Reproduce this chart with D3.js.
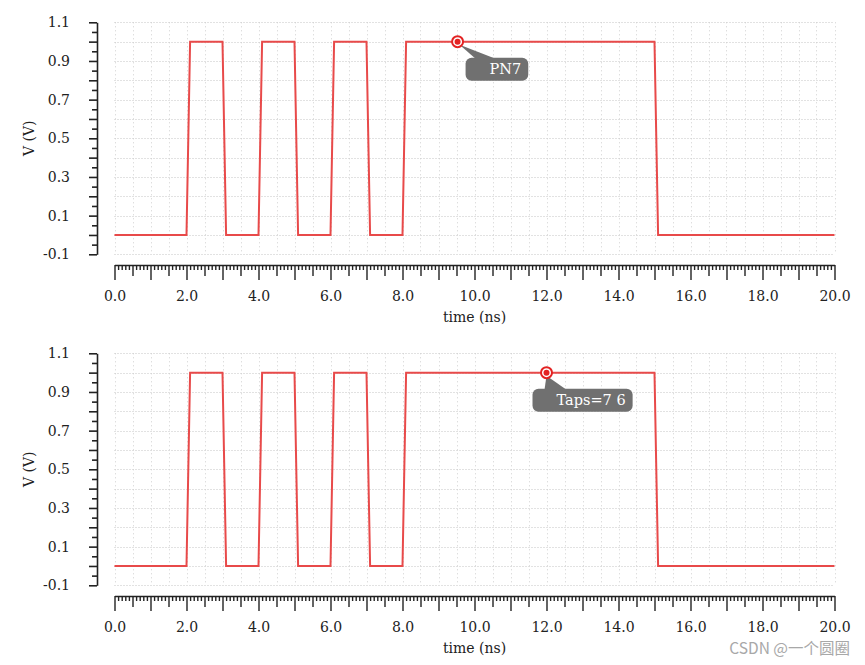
<!DOCTYPE html>
<html>
<head>
<meta charset="utf-8">
<script src="https://cdn.jsdelivr.net/npm/d3@7/dist/d3.min.js"></script>
<style>
  html, body { margin: 0; padding: 0; background: #fff; }
  svg { display: block; }
</style>
</head>
<body>
<svg id="chart" width="865" height="665"></svg>
<script>
// ---- data ----
const timeNs  = [0, 2.0, 2.1, 3.0, 3.1, 4.0, 4.1, 5.0, 5.1, 6.0, 6.1, 7.0, 7.1, 8.0, 8.1, 15.0, 15.1, 20.0];
const voltage = [0, 0,   1,   1,   0,   0,   1,   1,   0,   0,   1,   1,   0,   0,   1,   1,    0,    0];
const xTickLabels = ["0.0","2.0","4.0","6.0","8.0","10.0","12.0","14.0","16.0","18.0","20.0"];
const yTickLabels = ["-0.1","0.1","0.3","0.5","0.7","0.9","1.1"];
const markerTimes  = [9.53, 12.0];
const markerValues = [1.0, 1.0];
const markerLabels = ["PN7", "Taps=7 6"];
const panelOffsets = [0, 331];

const xDomain = [0, 20];
const yDomain = [-0.1, 1.1];

const SERIF = '"DejaVu Serif", serif';
const fmt1 = d => { const v = Math.round(d * 10) / 10; return (v < 0 ? "-" : "") + Math.abs(v).toFixed(1); };

const svg = d3.select("#chart");
const x = d3.scaleLinear().domain(xDomain).range([114.5, 834.5]);

const points = timeNs.map((t, i) => [t, voltage[i]]);

panelOffsets.forEach((off, pi) => {
  const g = svg.append("g").attr("transform", `translate(0,${off})`);
  const y = d3.scaleLinear().domain(yDomain).range([254.3, 22.3]);

  // grid
  const hGrid = d3.range(-1, 12).map(k => k / 10);
  const vGrid = d3.range(0, 41).map(k => k / 2);
  g.append("g").selectAll("line").data(hGrid).join("line")
    .attr("x1", x(0)).attr("x2", x(20))
    .attr("y1", d => Math.round(y(d)) + 0.5).attr("y2", d => Math.round(y(d)) + 0.5)
    .attr("stroke", "#c4c4c4").attr("stroke-width", 1).attr("stroke-dasharray", "1,2");
  g.append("g").selectAll("line").data(vGrid).join("line")
    .attr("y1", y(1.1)).attr("y2", y(-0.1))
    .attr("x1", d => Math.round(x(d)) + 0.5).attr("x2", d => Math.round(x(d)) + 0.5)
    .attr("stroke", "#d0d0d0").attr("stroke-width", 1).attr("stroke-dasharray", "1,3");

  // y axis
  const yTicks = d3.range(-2, 23).map(k => +(k * 0.05).toFixed(2));
  const isTenth = d => Math.abs(Math.round(d * 100)) % 10 === 0;
  const yAxis = d3.axisLeft(y).tickValues(yTicks).tickSizeInner(8).tickSizeOuter(0).tickPadding(19)
    .tickFormat(d => { const s = fmt1(d); return isTenth(d) && yTickLabels.includes(s) ? s : ""; });
  const ya = g.append("g").attr("transform", "translate(97,0)").call(yAxis);
  ya.selectAll(".tick line").attr("x2", d => isTenth(d) ? -8 : -5);
  ya.selectAll("path, line").attr("stroke", "#222").attr("stroke-width", 1.6);
  ya.selectAll("text").attr("font-size", 14).attr("fill", "#222").attr("font-family", SERIF);

  // x axis
  const xTicks = d3.range(0, 201).map(k => k / 10);
  const xAxis = d3.axisBottom(x).tickValues(xTicks).tickSizeInner(5).tickSizeOuter(0).tickPadding(11)
    .tickFormat(d => { const s = fmt1(d); return Math.round(d * 10) % 20 === 0 && xTickLabels.includes(s) ? s : ""; });
  const xa = g.append("g").attr("transform", "translate(0,265)").call(xAxis);
  xa.selectAll(".tick line").attr("y2", d => {
    const k = Math.round(d * 10);
    return k % 10 === 0 ? 15 : (k % 5 === 0 ? 11 : 5);
  });
  xa.selectAll(".tick text").attr("y", 26);
  xa.selectAll("path, line").attr("stroke", "#222").attr("stroke-width", 1.4);
  xa.selectAll("text").attr("font-size", 14).attr("fill", "#222").attr("font-family", SERIF);

  // axis titles
  g.append("text").attr("x", x(10)).attr("y", 322).attr("text-anchor", "middle")
    .attr("font-family", SERIF).attr("font-size", 14).attr("fill", "#222").text("time (ns)");
  g.append("text").attr("transform", `translate(34,${y(0.5)}) rotate(-90)`).attr("text-anchor", "middle")
    .attr("font-family", SERIF).attr("font-size", 14).attr("fill", "#222").text("V (V)");

  // waveform
  const line = d3.line().x(d => x(d[0])).y(d => y(d[1]));
  g.append("path").datum(points).attr("d", line)
    .attr("fill", "none").attr("stroke", "#e84a4a").attr("stroke-width", 2).attr("stroke-linejoin", "miter");

  // marker + label
  const mx = x(markerTimes[pi]), my = y(markerValues[pi]);
  const label = markerLabels[pi];
  const lg = g.append("g");
  const tri = lg.append("path").attr("fill", "#707070");
  const rect = lg.append("rect").attr("rx", 6).attr("fill", "#707070");
  const txt = lg.append("text").attr("text-anchor", "end")
    .attr("font-family", SERIF).attr("font-size", 14.5).attr("fill", "#fff").text(label);
  const tw = txt.node().getComputedTextLength();
  const boxW = tw + 31, boxH = 23;
  const bx = pi === 0 ? mx + 8 : mx - 14;
  const by = my + 16;
  rect.attr("x", bx).attr("y", by).attr("width", boxW).attr("height", boxH);
  txt.attr("x", bx + boxW - 7).attr("y", by + 16.5);
  tri.attr("d", pi === 0
    ? `M${mx + 2},${my + 3} L${bx + 30},${by + 1} L${bx + 10},${by + 1} Z`
    : `M${mx},${my + 3} L${bx + 34},${by + 1} L${bx + 12},${by + 1} Z`);
  g.append("circle").attr("cx", mx).attr("cy", my).attr("r", 5.5)
    .attr("fill", "#fff").attr("stroke", "#e32222").attr("stroke-width", 2);
  g.append("circle").attr("cx", mx).attr("cy", my).attr("r", 3).attr("fill", "#e32222");
});

// watermark
svg.append("text").attr("x", 850).attr("y", 654).attr("text-anchor", "end")
  .attr("font-family", '"Noto Sans CJK SC", "Noto Sans", sans-serif').attr("font-size", 15.5)
  .attr("fill", "#a8a8a8").text("CSDN @一个圆圈");
</script>
</body>
</html>
